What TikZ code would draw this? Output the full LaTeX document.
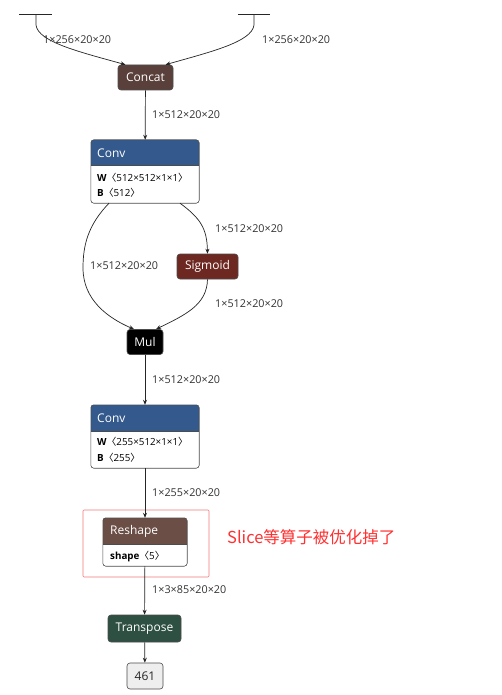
\documentclass[tikz,border=0pt]{standalone}
\usepackage{fontspec}
\setmainfont{Open Sans}
\newfontfamily\cjk{Noto Sans CJK SC}
\usetikzlibrary{arrows.meta}
\definecolor{cconcat}{HTML}{5A403A}
\definecolor{cconv}{HTML}{34598C}
\definecolor{csig}{HTML}{6E2822}
\definecolor{creshape}{HTML}{6B4E45}
\definecolor{ctrans}{HTML}{2E5042}
\definecolor{cout}{HTML}{EEEEEE}
\definecolor{cred}{HTML}{FF3030}
\definecolor{cbox}{HTML}{F07878}
\definecolor{clab}{HTML}{333333}
\newcommand{\lang}{{\cjk〈}}
\newcommand{\rang}{{\cjk〉}}
\tikzset{
  op/.style={rounded corners=3pt, draw=black!70, line width=0.6pt, text=white, font=\fontsize{12}{14}\selectfont, inner sep=0pt},
  card/.style={draw=none, inner sep=0pt},
  lab/.style={font=\fontsize{10.8}{12}\selectfont, text=clab, anchor=west, inner sep=0pt},
  attr/.style={font=\fontsize{9.8}{12}\selectfont, text=black, anchor=west, inner sep=0pt},
  hdr/.style={font=\fontsize{12}{14}\selectfont, text=white, anchor=west, inner sep=0pt},
  edge/.style={line width=0.7pt, draw=black!85, -{Stealth[length=5pt,width=4pt]}},
  bar/.style={line width=1pt, draw=black!85}
}
\begin{document}
\begin{tikzpicture}[x=1pt,y=-1pt]
\useasboundingbox (0,0) rectangle (501,695);
\fill[white] (0,0) rectangle (501,695);

% inputs
\draw[bar] (19,15) -- (52,15);
\draw[bar] (238,15) -- (270,15);
\coordinate (in1) at (36,15);
\coordinate (in2) at (254,15);

% Concat
\node[op, fill=cconcat, minimum width=55pt, minimum height=25pt] (concat) at (145.5,77.5) {Concat};

% Conv1 card
\node[card, minimum width=108pt, minimum height=63pt] (conv1) at (145,171.5) {};
\fill[white, rounded corners=3pt] (conv1.south west) rectangle (conv1.north east);
\begin{scope}
\clip[rounded corners=3pt] (conv1.south west) rectangle (conv1.north east);
\fill[cconv] (conv1.north west) rectangle ([yshift=-26pt]conv1.north east);
\end{scope}
\draw[black!70, line width=0.6pt] ([yshift=-26pt]conv1.north west) -- ([yshift=-26pt]conv1.north east);
\draw[black!70, line width=0.6pt, rounded corners=3pt] (conv1.south west) rectangle (conv1.north east);
\node[hdr] (conv1h) at (97,153) {Conv};
\node[attr] (conv1w) at (97,178) {\textbf{W}\lang512×512×1×1\rang};
\node[attr] (conv1b) at (97,193) {\textbf{B}\lang512\rang};

% Sigmoid
\node[op, fill=csig, minimum width=61pt, minimum height=25pt] (sig) at (207.5,266.5) {Sigmoid};

% Mul
\node[op, fill=black, minimum width=36pt, minimum height=25pt] (mul) at (145,342) {Mul};

% Conv2 card
\node[card, minimum width=108pt, minimum height=63pt] (conv2) at (145,436.5) {};
\fill[white, rounded corners=3pt] (conv2.south west) rectangle (conv2.north east);
\begin{scope}
\clip[rounded corners=3pt] (conv2.south west) rectangle (conv2.north east);
\fill[cconv] (conv2.north west) rectangle ([yshift=-26pt]conv2.north east);
\end{scope}
\draw[black!70, line width=0.6pt] ([yshift=-26pt]conv2.north west) -- ([yshift=-26pt]conv2.north east);
\draw[black!70, line width=0.6pt, rounded corners=3pt] (conv2.south west) rectangle (conv2.north east);
\node[hdr] (conv2h) at (97,418) {Conv};
\node[attr] (conv2w) at (97,442) {\textbf{W}\lang255×512×1×1\rang};
\node[attr] (conv2b) at (97,458) {\textbf{B}\lang255\rang};

% Reshape card
\node[card, minimum width=84pt, minimum height=48pt] (resh) at (145,542) {};
\fill[white, rounded corners=3pt] (resh.south west) rectangle (resh.north east);
\begin{scope}
\clip[rounded corners=3pt] (resh.south west) rectangle (resh.north east);
\fill[creshape] (resh.north west) rectangle ([yshift=-26pt]resh.north east);
\end{scope}
\draw[black!70, line width=0.6pt] ([yshift=-26pt]resh.north west) -- ([yshift=-26pt]resh.north east);
\draw[black!70, line width=0.6pt, rounded corners=3pt] (resh.south west) rectangle (resh.north east);
\node[hdr] (reshh) at (110,531) {Reshape};
\node[attr] (reshs) at (110,557) {\textbf{shape}\lang5\rang};

% red highlight box
\node[draw=cbox, line width=0.6pt, rounded corners=1pt, minimum width=126pt, minimum height=67pt, inner sep=0pt] (hl) at (146,543.5) {};
\node[font=\cjk\fontsize{16.5}{18}\selectfont, text=cred, anchor=west, inner sep=0pt] (note) at (227,537) {Slice等算子被优化掉了};

% Transpose
\node[op, fill=ctrans, minimum width=73pt, minimum height=27pt] (trans) at (144.5,628.5) {Transpose};

% output 461
\node[op, fill=cout, text=black!85, minimum width=36pt, minimum height=26pt] (out) at (145,676) {461};

% edges
\draw[edge] (in1) -- (36,25) .. controls (38,42) and (80,52) .. ([xshift=-20pt]concat.north);
\draw[edge] (in2) -- (254,25) .. controls (252,42) and (210,52) .. ([xshift=20pt]concat.north);
\node[lab] (l1) at (43,40) {1×256×20×20};
\node[lab] (l2) at (262,40) {1×256×20×20};

\draw[edge] (concat) -- (conv1);
\node[lab] (l3) at (152,115) {1×512×20×20};

\draw[edge] ([xshift=-36pt]conv1.south) .. controls (88,225) and (83,245) .. (83,268) .. controls (83,300) and (108,318) .. ([xshift=-11pt]mul.north);
\node[lab] (l4) at (90,266) {1×512×20×20};

\draw[edge] ([xshift=35pt]conv1.south) .. controls (200,218) and (207,228) .. (sig.north);
\node[lab] (l5) at (215,229) {1×512×20×20};

\draw[edge] (sig.south) .. controls (207,305) and (185,315) .. ([xshift=11pt]mul.north);
\node[lab] (l6) at (215,304) {1×512×20×20};

\draw[edge] (mul) -- (conv2);
\node[lab] (l7) at (152,380) {1×512×20×20};

\draw[edge] (conv2) -- (resh);
\node[lab] (l8) at (152,493) {1×255×20×20};

\draw[edge] (resh) -- (trans);
\node[lab] (l9) at (152,590) {1×3×85×20×20};

\draw[edge] (trans) -- (out);
\end{tikzpicture}
\end{document}
